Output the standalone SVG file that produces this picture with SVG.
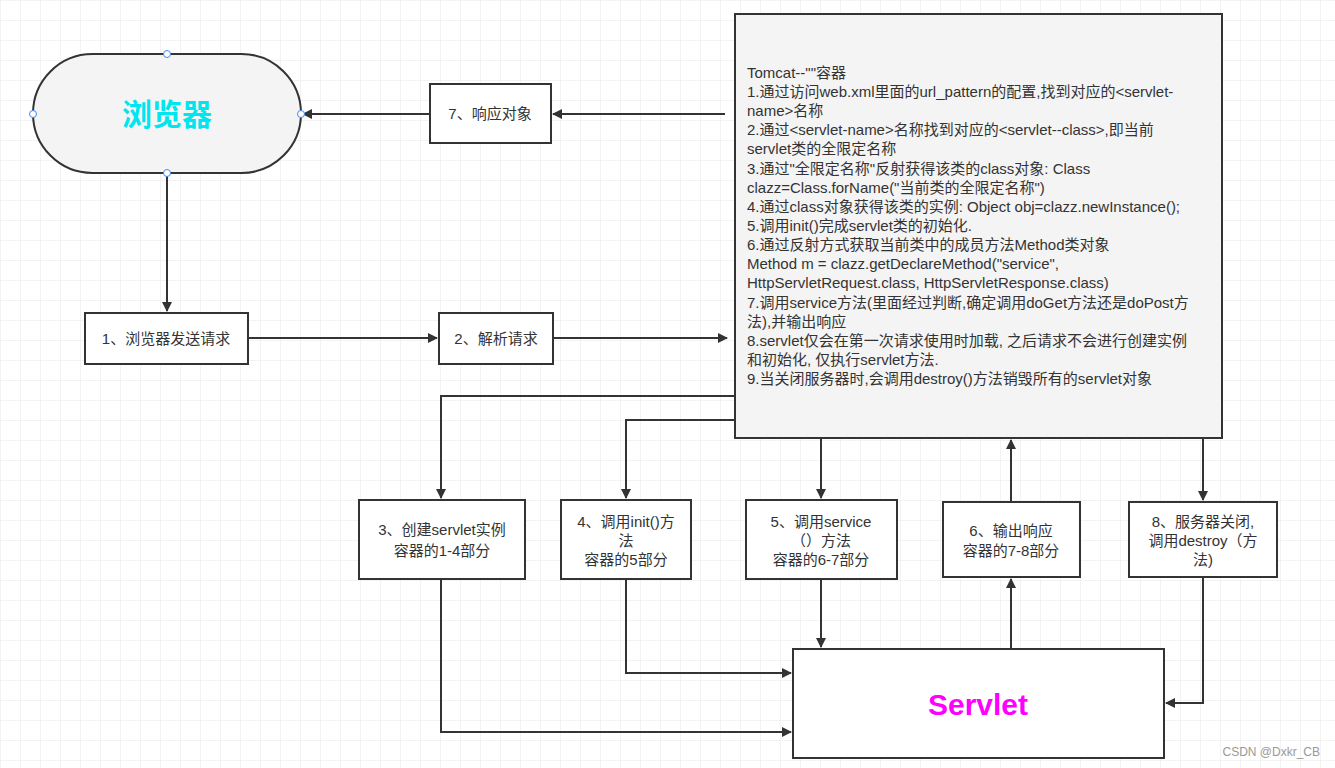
<svg xmlns="http://www.w3.org/2000/svg" width="1335" height="768" viewBox="0 0 1335 768">
<defs>
<pattern id="grid" width="20" height="20" patternUnits="userSpaceOnUse"><path d="M20 0H0V20" fill="none" stroke="#e8e8e8" stroke-width="1"/></pattern>
<marker id="ar" viewBox="0 0 10 10" refX="9" refY="5" markerWidth="10" markerHeight="10" markerUnits="userSpaceOnUse" orient="auto"><path d="M0 0L10 5L0 10z" fill="#333"/></marker>
</defs>
<style>
.b{fill:#fff;stroke:#333;stroke-width:2}
.t{font-family:"Liberation Sans","Noto Sans CJK SC",sans-serif;font-size:15px;fill:#333;text-anchor:middle}
.c path{fill:none;stroke:#333;stroke-width:2;marker-end:url(#ar)}
.d{fill:#fff;stroke:#3d8bf0;stroke-width:1}
</style>
<rect width="1335" height="768" fill="#fff"/>
<rect width="1335" height="768" fill="url(#grid)"/>
<g class="c" id="connectors">
<path d="M167 173V311"/>
<path d="M248 338H437"/>
<path d="M553 338H727"/>
<path d="M725 114H553"/>
<path d="M430 114H303"/>
<path d="M735 396H441V498"/>
<path d="M735 420H626V498"/>
<path d="M821 438V498"/>
<path d="M1011 502V440"/>
<path d="M1203 438V500"/>
<path d="M441 579V732H791"/>
<path d="M626 579V673H791"/>
<path d="M821 579V647"/>
<path d="M1011 649V579"/>
<path d="M1203 577V703H1166"/>
</g>
<g id="browser">
<rect x="33" y="54" width="268" height="119" rx="59.5" fill="#f4f4f4" stroke="#333" stroke-width="2"/>
<text x="167" y="125" font-family="Liberation Sans,Noto Sans CJK SC,sans-serif" font-size="30" font-weight="bold" fill="#00e5ee" text-anchor="middle">浏览器</text>
<circle class="d" cx="167" cy="54" r="3.5"/><circle class="d" cx="167" cy="173" r="3.5"/><circle class="d" cx="33" cy="114" r="3.5"/><circle class="d" cx="301" cy="114" r="3.5"/>
</g>
<g id="n7"><rect class="b" x="430" y="84" width="121" height="59"/><text class="t" x="490" y="119">7、响应对象</text></g>
<g id="tomcat"><rect x="735" y="14" width="487" height="424" fill="#f4f4f4" stroke="#333" stroke-width="2"/>
<text font-family="Liberation Sans,Noto Sans CJK SC,sans-serif" font-size="15" fill="#333">
<tspan x="747" y="78">Tomcat--""容器</tspan>
<tspan x="747" y="97">1.通过访问web.xml里面的url_pattern的配置,找到对应的&lt;servlet-</tspan>
<tspan x="747" y="116">name&gt;名称</tspan>
<tspan x="747" y="135">2.通过&lt;servlet-name&gt;名称找到对应的&lt;servlet--class&gt;,即当前</tspan>
<tspan x="747" y="154">servlet类的全限定名称</tspan>
<tspan x="747" y="174">3.通过"全限定名称"反射获得该类的class对象: Class</tspan>
<tspan x="747" y="193">clazz=Class.forName("当前类的全限定名称")</tspan>
<tspan x="747" y="212">4.通过class对象获得该类的实例: Object obj=clazz.newInstance();</tspan>
<tspan x="747" y="231">5.调用init()完成servlet类的初始化.</tspan>
<tspan x="747" y="250">6.通过反射方式获取当前类中的成员方法Method类对象</tspan>
<tspan x="747" y="269">Method m = clazz.getDeclareMethod("service",</tspan>
<tspan x="747" y="288">HttpServletRequest.class, HttpServletResponse.class)</tspan>
<tspan x="747" y="308">7.调用service方法(里面经过判断,确定调用doGet方法还是doPost方</tspan>
<tspan x="747" y="327">法),并输出响应</tspan>
<tspan x="747" y="346">8.servlet仅会在第一次请求使用时加载, 之后请求不会进行创建实例</tspan>
<tspan x="747" y="365">和初始化, 仅执行servlet方法.</tspan>
<tspan x="747" y="384">9.当关闭服务器时,会调用destroy()方法销毁所有的servlet对象</tspan>
</text></g>
<g id="n1"><rect class="b" x="85" y="313" width="163" height="51"/><text class="t" x="166" y="344" font-size="14">1、浏览器发送请求</text></g>
<g id="n2"><rect class="b" x="439" y="313" width="114" height="51"/><text class="t" x="496" y="344" font-size="14">2、解析请求</text></g>
<g id="n3"><rect class="b" x="359" y="500" width="166" height="79"/><text class="t" x="442" y="535">3、创建servlet实例</text><text class="t" x="442" y="556">容器的1-4部分</text></g>
<g id="n4"><rect class="b" x="561" y="500" width="130" height="79"/><text class="t" x="626" y="527">4、调用init()方</text><text class="t" x="626" y="546">法</text><text class="t" x="626" y="565">容器的5部分</text></g>
<g id="n5"><rect class="b" x="746" y="500" width="151" height="79"/><text class="t" x="821" y="527">5、调用service</text><text class="t" x="821" y="546">（）方法</text><text class="t" x="821" y="565">容器的6-7部分</text></g>
<g id="n6"><rect class="b" x="943" y="502" width="137" height="75"/><text class="t" x="1011" y="536">6、输出响应</text><text class="t" x="1011" y="556">容器的7-8部分</text></g>
<g id="n8"><rect class="b" x="1129" y="502" width="148" height="75"/><text class="t" x="1203" y="527">8、服务器关闭,</text><text class="t" x="1203" y="546">调用destroy（方</text><text class="t" x="1203" y="565">法)</text></g>
<g id="servlet"><rect class="b" x="793" y="649" width="371" height="109"/><text x="978" y="715" font-family="Liberation Sans,sans-serif" font-size="30" font-weight="bold" fill="#ff00ff" text-anchor="middle">Servlet</text></g>
<text x="1320" y="756" font-family="Liberation Sans,Noto Sans CJK SC,sans-serif" font-size="12" fill="#999" text-anchor="end">CSDN @Dxkr_CB</text>
</svg>
